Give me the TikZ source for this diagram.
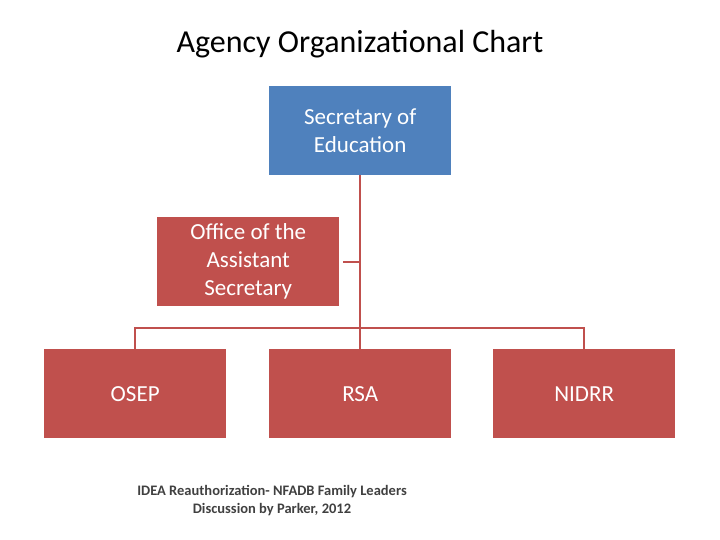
\documentclass[tikz,border=0pt]{standalone}
\usepackage{fontspec}
\setmainfont{Carlito}
\begin{document}
\begin{tikzpicture}[x=1pt,y=-1pt,
  box/.style={draw=none,minimum width=182pt,minimum height=89pt,align=center,text=white,font=\fontsize{23}{28}\selectfont,inner sep=2pt},
  conn/.style={draw={rgb,255:red,192;green,80;blue,77},line width=2.4pt}]
\definecolor{bl}{RGB}{79,129,189}
\definecolor{rd}{RGB}{192,80,77}
\useasboundingbox (0,0) rectangle (720,540);
\node[font=\fontsize{32}{38}\selectfont] (title) at (360,44) {Agency Organizational Chart};
\node[box,fill=bl,anchor=north west] (sec) at (269,86) {Secretary of\\Education};
\node[box,fill=rd,anchor=north west] (asst) at (157,217) {Office of the\\Assistant\\Secretary};
\node[box,fill=rd,anchor=north west] (osep) at (44,349) {OSEP};
\node[box,fill=rd,anchor=north west] (rsa) at (269,349) {RSA};
\node[box,fill=rd,anchor=north west] (nidrr) at (493,349) {NIDRR};
\node[font=\bfseries\fontsize{14.5}{18}\selectfont,text={rgb,255:red,64;green,64;blue,64},align=center] (foot) at (272,501) {IDEA Reauthorization- NFADB Family Leaders\\Discussion by Parker, 2012};
\coordinate (j) at (360,262);
\coordinate (s) at (343,262);
\draw[conn] (sec.south) -- (rsa.north);
\draw[conn] (s) -- (j);
\draw[conn] (osep.north) -- ++(0,-21) -| (nidrr.north);
\end{tikzpicture}
\end{document}
